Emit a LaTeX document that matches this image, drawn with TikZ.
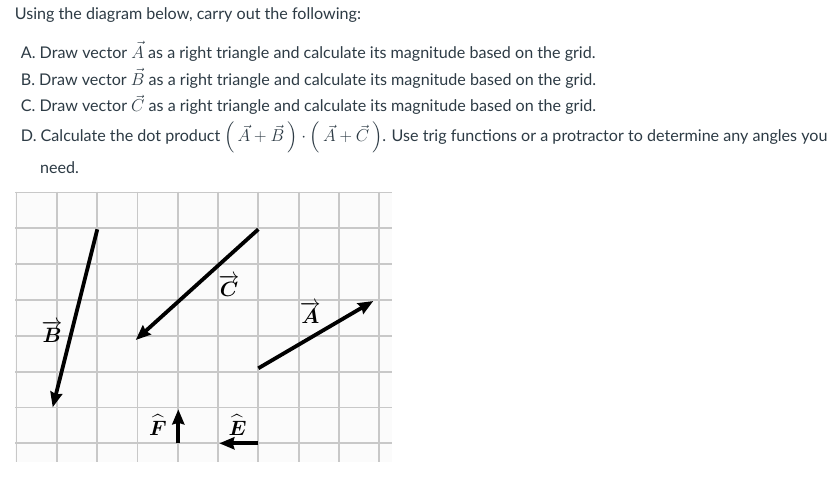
\documentclass[tikz,border=0pt]{standalone}
\usepackage{amsmath}
\usepackage{fontspec}
\setmainfont{Lato}
\usetikzlibrary{arrows.meta}
\definecolor{txt}{RGB}{45,59,69}
\definecolor{gridc}{RGB}{200,200,200}
\newcommand{\mth}[1]{{\fontsize{17.5}{18}\selectfont$#1$}}
\begin{document}
\begin{tikzpicture}[x=1pt,y=-1pt,
  gridline/.style={draw=gridc,line width=1.8pt},
  vecarrow/.style={line width=3.8pt,-{Stealth[length=15pt,width=12pt,inset=1.5pt]}},
  lbl/.style={font=\fontsize{20}{20}\selectfont,inner sep=0pt},
  txtline/.style={anchor=base west,inner sep=0pt,text=txt,font=\fontsize{16.1}{17}\selectfont}]
\useasboundingbox (0,0) rectangle (836,477);
\fill[white] (0,0) rectangle (836,477);
% text
\node[txtline] (t0) at (14.7,19) {Using the diagram below, carry out the following:};
\node[txtline] (ta) at (20.7,58.3) {A. Draw vector \mth{\vec{A}} as a right triangle and calculate its magnitude based on the grid.};
\node[txtline] (tb) at (20.7,85) {B. Draw vector \mth{\vec{B}} as a right triangle and calculate its magnitude based on the grid.};
\node[txtline] (tc) at (20.7,111.7) {C. Draw vector \mth{\vec{C}} as a right triangle and calculate its magnitude based on the grid.};
\node[txtline] (td) at (20.7,141.7) {D. Calculate the dot product \mth{\smash{\Bigl(\,\vec{A}+\vec{B}\,\Bigr)\cdot\Bigl(\,\vec{A}+\vec{C}\,\Bigr)}}. Use trig functions or a protractor to determine any angles you};
\node[txtline] (te) at (40,173.3) {need.};
% grid
\fill[gray!3] (15,191.5) rectangle (392,462);
\foreach \k in {0,...,9} \draw[gridline] ({16.5+40.3*\k},191.5) -- ({16.5+40.3*\k},462);
\foreach \k in {0,...,7} \draw[gridline] (15,{192.5+35.83*\k}) -- (392,{192.5+35.83*\k});
% vectors
\coordinate (b0) at (97.3,229.3);  \coordinate (b1) at (52.7,407.3);
\coordinate (c0) at (258.3,229.3); \coordinate (c1) at (135.7,340);
\coordinate (a0) at (258.3,368.3); \coordinate (a1) at (373.3,301);
\coordinate (f0) at (178.3,443.3); \coordinate (f1) at (178.3,409.3);
\coordinate (e0) at (258.3,443.3); \coordinate (e1) at (219.3,443.3);
\draw[vecarrow] (b0) -- (b1);
\draw[vecarrow] (c0) -- (c1);
\draw[vecarrow] (a0) -- (a1);
\draw[vecarrow] (f0) -- (f1);
\draw[vecarrow] (e0) -- (e1);
% labels
\node[lbl] (lb) at (52,332) {$\overrightarrow{\boldsymbol{B}}$};
\node[lbl] (lc) at (229,285.5) {$\overrightarrow{\boldsymbol{C}}$};
\node[lbl] (la) at (310.3,313) {$\overrightarrow{\boldsymbol{A}}$};
\node[lbl] (lf) at (158,425) {$\widehat{\boldsymbol{F}}$};
\node[lbl] (le) at (237.5,425) {$\widehat{\boldsymbol{E}}$};
\end{tikzpicture}
\end{document}
